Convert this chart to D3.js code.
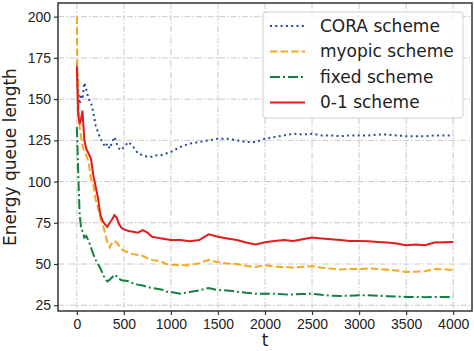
<!DOCTYPE html>
<html>
<head>
<meta charset="utf-8">
<script src="https://cdn.jsdelivr.net/npm/d3@7"></script>
<style>
  body { margin: 0; background: #fff; }
  svg { font-family: "DejaVu Sans", sans-serif; display: block; }
  .grid line { stroke: #c8c8c8; stroke-width: 1; stroke-dasharray: 6,2,1.5,2; }
  .axis path { display: none; }
  .axis line { stroke: #333; stroke-width: 1.2; }
  .axis text { fill: #222; font-size: 14px; }
</style>
</head>
<body>
<svg></svg>
<script>
var W = 474, H = 351;
var margin = {top: 3, right: 2, bottom: 40, left: 58};
var width = W - margin.left - margin.right;
var height = H - margin.top - margin.bottom;

// time steps (shared by all series)
var t = [0, 5, 15, 30, 45, 60, 80, 100, 125, 150, 175, 200, 225, 250, 275, 300,
  325, 350, 375, 400, 425, 450, 475, 500, 550, 600, 650, 700, 750, 800, 850, 900,
  950, 1000, 1100, 1200, 1300, 1400, 1500, 1600, 1700, 1800, 1900, 2000, 2100, 2200,
  2300, 2400, 2500, 2600, 2700, 2800, 2900, 3000, 3100, 3200, 3300, 3400, 3500, 3600,
  3700, 3800, 3900, 4000];

var cora = [172, 168, 155, 147, 153, 150, 160, 156, 150, 148, 142, 134, 130, 126, 124, 121,
  123, 120, 124, 127, 123, 120, 119, 121, 124, 121, 117, 116, 115, 115, 116, 116,
  117, 118, 121, 123, 124, 125, 126, 126, 125, 124, 124, 126, 127, 128, 129, 128.5,
  129, 128, 128, 127.5, 128, 128, 128, 128.5, 128.5, 128, 127.5, 127.5, 127.5, 128, 128, 128];

var myopic = [200, 170, 150, 133, 127, 122, 118, 116, 112, 102, 98, 89, 84, 78, 74, 69,
  63, 60, 63, 64, 63, 61, 59, 58, 57, 56, 55.5, 55, 53.5, 52.5, 52, 51.5,
  50, 49.5, 49.3, 49.3, 50.5, 52.5, 51, 50.3, 50, 48.8, 48.2, 49.3, 48.5, 48,
  47.9, 48.3, 48.7, 47.8, 47.2, 46.7, 47, 47, 47.3, 47, 46.5, 46, 45.2, 45.3,
  45.6, 47, 46.8, 46.3];

var fixed = [133, 125, 105, 80, 72, 70, 66, 67, 64, 60, 56, 52.5, 50, 47.5, 44, 41,
  39.5, 40.5, 42, 43.5, 42.5, 41, 40.2, 40, 39.5, 38.2, 37.5, 37, 36, 35.5, 35, 34.5,
  33.2, 33, 32, 33, 34, 35.5, 34.2, 34, 33.2, 32.5, 32, 32, 32, 31.6,
  31.5, 31.8, 32, 31.3, 30.8, 30.6, 30.8, 31, 31, 30.8, 30.5, 30.3, 30, 30,
  29.9, 30, 30, 30];

var zeroOne = [170, 160, 140, 135, 138, 143, 125, 120, 117, 114, 104, 97, 90, 80, 76, 74,
  72.5, 75, 77, 79.6, 78, 74, 72, 71, 70, 69.5, 69, 70.5, 69, 66.5, 66, 65.5,
  65, 64.5, 64.5, 63.8, 64.5, 68, 66.5, 65.5, 64.5, 63, 61.8, 63.2, 64, 64.5,
  64, 65, 66, 65.5, 65, 64.5, 64, 64, 63.8, 63.4, 63, 62.5, 61.4, 61.8,
  61.4, 63, 63.2, 63.4];

var xTicks = [0, 500, 1000, 1500, 2000, 2500, 3000, 3500, 4000];
var yTicks = [25, 50, 75, 100, 125, 150, 175, 200];

var series = [
  {name: "CORA scheme", values: cora, color: "#234c9f", dash: "2,3.3"},
  {name: "myopic scheme", values: myopic, color: "#f5a81c", dash: "7.4,3.2"},
  {name: "fixed scheme", values: fixed, color: "#14803e", dash: "10,3,2,3"},
  {name: "0-1 scheme", values: zeroOne, color: "#e41a1c", dash: null}
];

var svg = d3.select("svg")
    .attr("width", W)
    .attr("height", H)
  .append("g")
    .attr("transform", "translate(" + margin.left + "," + margin.top + ")");

var xScale = d3.scaleLinear().domain([-200, 4200]).range([0, width]);
var yScale = d3.scaleLinear().domain([21.5, 208.3]).range([height, 0]);

svg.append("defs").append("clipPath")
    .attr("id", "plotClip")
  .append("rect")
    .attr("width", width)
    .attr("height", height);

// grid
var grid = svg.append("g").attr("class", "grid");

grid.selectAll("line.gx")
    .data(xTicks)
  .enter().append("line")
    .attr("class", "gx")
    .attr("x1", function(d) { return xScale(d); })
    .attr("x2", function(d) { return xScale(d); })
    .attr("y1", 0)
    .attr("y2", height);

grid.selectAll("line.gy")
    .data(yTicks)
  .enter().append("line")
    .attr("class", "gy")
    .attr("x1", 0)
    .attr("x2", width)
    .attr("y1", function(d) { return yScale(d); })
    .attr("y2", function(d) { return yScale(d); });

// lines
var line = d3.line()
    .x(function(d, i) { return xScale(t[i]); })
    .y(function(d) { return yScale(d); });

svg.append("g")
    .attr("clip-path", "url(#plotClip)")
  .selectAll("path")
    .data(series)
  .enter().append("path")
    .attr("fill", "none")
    .attr("stroke", function(d) { return d.color; })
    .attr("stroke-width", 2)
    .attr("stroke-dasharray", function(d) { return d.dash; })
    .attr("d", function(d) { return line(d.values); });

// axes
svg.append("g")
    .attr("class", "axis")
    .attr("transform", "translate(0," + height + ")")
    .call(d3.axisBottom(xScale).tickValues(xTicks).tickFormat(d3.format("d")).tickSize(4).tickPadding(4));

svg.append("g")
    .attr("class", "axis")
    .call(d3.axisLeft(yScale).tickValues(yTicks).tickSize(4).tickPadding(3));

// frame
svg.append("rect")
    .attr("width", width)
    .attr("height", height)
    .attr("fill", "none")
    .attr("stroke", "#333")
    .attr("stroke-width", 1.5);

svg.append("text")
    .attr("x", width / 2)
    .attr("y", height + 35)
    .style("text-anchor", "middle")
    .style("font-size", "17px")
    .attr("fill", "#222")
    .text("t");

svg.append("text")
    .attr("transform", "translate(" + (-42) + "," + (height / 2) + ") rotate(-90)")
    .style("text-anchor", "middle")
    .style("font-size", "17px")
    .attr("fill", "#222")
    .text("Energy queue length");

// legend
var legend = svg.append("g")
    .attr("class", "legend")
    .attr("transform", "translate(" + (263 - margin.left) + "," + (12 - margin.top) + ")");

legend.append("rect")
    .attr("width", 200)
    .attr("height", 106)
    .attr("rx", 3)
    .attr("fill", "#fff")
    .attr("fill-opacity", 0.85)
    .attr("stroke", "#d0d0d0");

var entry = legend.selectAll("g.entry")
    .data(series)
  .enter().append("g")
    .attr("class", "entry")
    .attr("transform", function(d, i) { return "translate(0," + (14 + i * 25.5) + ")"; });

entry.append("line")
    .attr("x1", 7)
    .attr("x2", 42)
    .attr("stroke", function(d) { return d.color; })
    .attr("stroke-width", 2)
    .attr("stroke-dasharray", function(d) { return d.dash; });

entry.append("text")
    .attr("x", 57)
    .attr("dy", "0.35em")
    .style("font-size", "17px")
    .attr("fill", "#222")
    .text(function(d) { return d.name; });
</script>
</body>
</html>
